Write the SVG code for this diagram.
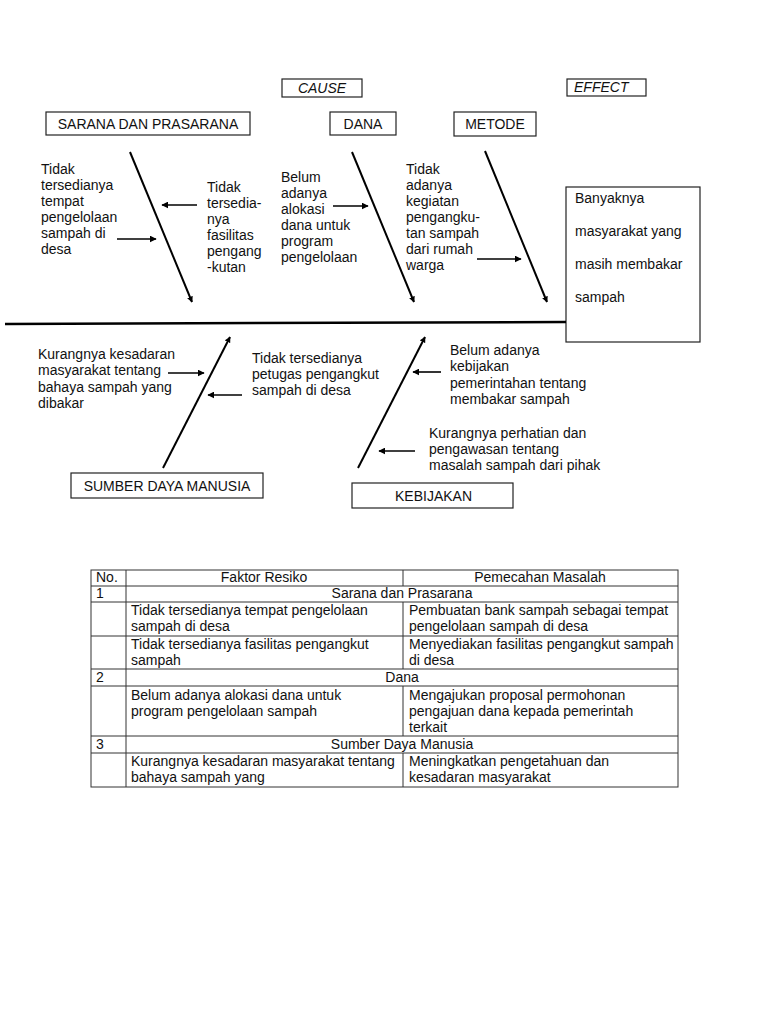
<svg xmlns="http://www.w3.org/2000/svg" width="768" height="1024" viewBox="0 0 768 1024">
<defs>
<marker id="ah" viewBox="0 0 10 10" refX="9" refY="5" markerWidth="6" markerHeight="6" markerUnits="userSpaceOnUse" orient="auto"><path d="M0,0 L10,5 L0,10 z" fill="#000"/></marker>
<marker id="ahs" viewBox="0 0 10 10" refX="9" refY="5" markerWidth="7" markerHeight="7" markerUnits="userSpaceOnUse" orient="auto"><path d="M0,0 L10,5 L0,10 z" fill="#000"/></marker>
<style>
text{font-family:"Liberation Sans",Arial,sans-serif;font-size:14px;fill:#111}
.it{font-style:italic}
.box{fill:#fff;stroke:#222;stroke-width:1.2}
.bone{stroke:#000;stroke-width:2;fill:none;marker-end:url(#ah)}
.sm{stroke:#000;stroke-width:1.6;fill:none;marker-end:url(#ahs)}
.tb{stroke:#333;stroke-width:1;fill:none}
.c{text-anchor:middle}
</style>
</defs>
<rect width="768" height="1024" fill="#fff"/>

<g id="cause"><rect class="box" x="282" y="79" width="80" height="18"/><text class="it c" x="322" y="93">CAUSE</text></g>
<g id="effect-label"><rect class="box" x="567" y="79" width="79" height="17"/><text class="it" x="574" y="92">EFFECT</text></g>
<g id="sarana"><rect class="box" x="46" y="112" width="204" height="23"/><text class="c" x="148" y="129">SARANA DAN PRASARANA</text></g>
<g id="dana"><rect class="box" x="330" y="112" width="66" height="23"/><text class="c" x="363" y="129">DANA</text></g>
<g id="metode"><rect class="box" x="454" y="112" width="82" height="24"/><text class="c" x="495" y="129">METODE</text></g>
<g id="effect"><rect class="box" x="566" y="187" width="134" height="155"/>
<text x="575" y="203">Banyaknya</text><text x="575" y="236">masyarakat yang</text><text x="575" y="269">masih membakar</text><text x="575" y="302">sampah</text></g>
<g id="sdm"><rect class="box" x="71" y="473" width="192" height="25"/><text class="c" x="167" y="491">SUMBER DAYA MANUSIA</text></g>
<g id="kebijakan"><rect class="box" x="352" y="483" width="161" height="25"/><text x="395" y="501">KEBIJAKAN</text></g>

<g id="texts">
<text x="41" y="174">Tidak</text><text x="41" y="190">tersedianya</text><text x="41" y="206">tempat</text><text x="41" y="222">pengelolaan</text><text x="41" y="238">sampah di</text><text x="41" y="254">desa</text>
<text x="207" y="192">Tidak</text><text x="207" y="208">tersedia-</text><text x="207" y="224">nya</text><text x="207" y="240">fasilitas</text><text x="207" y="256">pengang</text><text x="207" y="272">-kutan</text>
<text x="281" y="182">Belum</text><text x="281" y="198">adanya</text><text x="281" y="214">alokasi</text><text x="281" y="230">dana untuk</text><text x="281" y="246">program</text><text x="281" y="262">pengelolaan</text>
<text x="406" y="174">Tidak</text><text x="406" y="190">adanya</text><text x="406" y="206">kegiatan</text><text x="406" y="222">pengangku-</text><text x="406" y="238">tan sampah</text><text x="406" y="254">dari rumah</text><text x="406" y="270">warga</text>
<text x="38" y="359">Kurangnya kesadaran</text><text x="38" y="375">masyarakat tentang</text><text x="38" y="392">bahaya sampah yang</text><text x="38" y="408">dibakar</text>
<text x="252" y="363">Tidak tersedianya</text><text x="252" y="379">petugas pengangkut</text><text x="252" y="395">sampah di desa</text>
<text x="450" y="355">Belum adanya</text><text x="450" y="371">kebijakan</text><text x="450" y="388">pemerintahan tentang</text><text x="450" y="404">membakar sampah</text>
<text x="429" y="438">Kurangnya perhatian dan</text><text x="429" y="454">pengawasan tentang</text><text x="429" y="470">masalah sampah dari pihak</text>
</g>

<g id="connectors">
<line x1="5" y1="324" x2="566" y2="322" stroke="#000" stroke-width="2.5"/>
<line class="bone" x1="130" y1="152" x2="192" y2="302"/>
<line class="bone" x1="352" y1="152" x2="414" y2="302"/>
<line class="bone" x1="485" y1="151" x2="547" y2="302"/>
<line class="bone" x1="163" y1="468" x2="230" y2="337"/>
<line class="bone" x1="358" y1="468" x2="425" y2="337"/>
<line class="sm" x1="117" y1="239" x2="156" y2="239"/>
<line class="sm" x1="197" y1="205" x2="162" y2="205"/>
<line class="sm" x1="333" y1="206" x2="368" y2="206"/>
<line class="sm" x1="477" y1="259" x2="521" y2="259"/>
<line class="sm" x1="168" y1="373" x2="204" y2="373"/>
<line class="sm" x1="242" y1="395" x2="208" y2="395"/>
<line class="sm" x1="441" y1="372" x2="413" y2="372"/>
<line class="sm" x1="415" y1="451" x2="379" y2="451"/>
</g>

<g id="table">
<rect class="tb" x="91" y="570" width="587" height="217"/>
<line class="tb" x1="91" y1="586" x2="678" y2="586"/>
<line class="tb" x1="91" y1="602" x2="678" y2="602"/>
<line class="tb" x1="91" y1="636" x2="678" y2="636"/>
<line class="tb" x1="91" y1="669" x2="678" y2="669"/>
<line class="tb" x1="91" y1="686" x2="678" y2="686"/>
<line class="tb" x1="91" y1="736" x2="678" y2="736"/>
<line class="tb" x1="91" y1="753" x2="678" y2="753"/>
<line class="tb" x1="126" y1="570" x2="126" y2="787"/>
<line class="tb" x1="403" y1="570" x2="403" y2="586"/>
<line class="tb" x1="403" y1="602" x2="403" y2="669"/>
<line class="tb" x1="403" y1="686" x2="403" y2="736"/>
<line class="tb" x1="403" y1="753" x2="403" y2="787"/>
<text x="96" y="582">No.</text>
<text class="c" x="264" y="582">Faktor Resiko</text>
<text class="c" x="540" y="582">Pemecahan Masalah</text>
<text x="96" y="598">1</text>
<text class="c" x="402" y="598">Sarana dan Prasarana</text>
<text x="131" y="615">Tidak tersedianya tempat pengelolaan</text><text x="131" y="631">sampah di desa</text>
<text x="409" y="615">Pembuatan bank sampah sebagai tempat</text><text x="409" y="631">pengelolaan sampah di desa</text>
<text x="131" y="649">Tidak tersedianya fasilitas pengangkut</text><text x="131" y="665">sampah</text>
<text x="409" y="649">Menyediakan fasilitas pengangkut sampah</text><text x="409" y="665">di desa</text>
<text x="96" y="682">2</text>
<text class="c" x="402" y="682">Dana</text>
<text x="131" y="700">Belum adanya alokasi dana untuk</text><text x="131" y="716">program pengelolaan sampah</text>
<text x="409" y="700">Mengajukan proposal permohonan</text><text x="409" y="716">pengajuan dana kepada pemerintah</text><text x="409" y="732">terkait</text>
<text x="96" y="749">3</text>
<text class="c" x="402" y="749">Sumber Daya Manusia</text>
<text x="131" y="766">Kurangnya kesadaran masyarakat tentang</text><text x="131" y="782">bahaya sampah yang</text>
<text x="409" y="766">Meningkatkan pengetahuan dan</text><text x="409" y="782">kesadaran masyarakat</text>
</g>
</svg>
